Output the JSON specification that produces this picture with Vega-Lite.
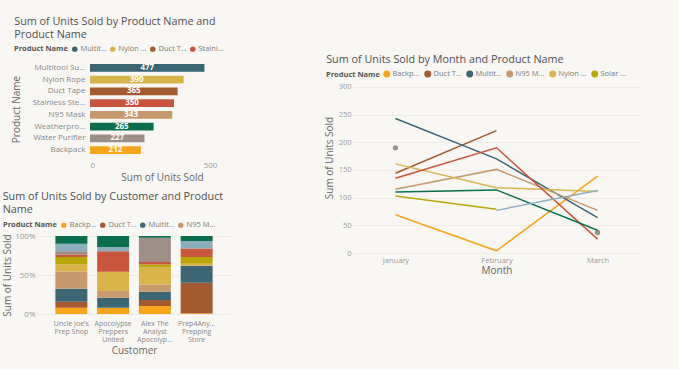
{
  "$schema": "https://vega.github.io/schema/vega-lite/v6.json",
  "background": "#F8F7F3",
  "padding": {"left": 2, "top": 16, "right": 39, "bottom": 13},
  "config": {
    "font": "Open Sans",
    "view": {"stroke": null},
    "axis": {"domain": false, "ticks": false, "labelColor": "#999999", "titleColor": "#666666", "titleFontWeight": "normal", "labelFontSize": 8, "titleFontSize": 10, "gridColor": "#ECEBE6", "labelAngle": 0},
    "title": {"fontSize": 10.8, "fontWeight": "normal", "color": "#505050", "anchor": "start"},
    "legend": {"orient": "none", "direction": "horizontal", "titleOrient": "left", "titleFontSize": 7.5, "titleFontWeight": "bold", "titleColor": "#555555", "labelFontSize": 7.5, "labelColor": "#7A7A7A", "symbolType": "circle", "symbolSize": 30, "labelLimit": 29, "titlePadding": 3, "columnPadding": 2, "labelOffset": 2}
  },
  "concat": [
    {
      "concat": [
        {
          "width": 198,
          "height": 94,
          "title": {"text": ["Sum of Units Sold by Product Name and", "Product Name"], "frame": "bounds", "anchor": "start", "offset": 5, "dx": 3, "lineHeight": 13},
          "data": {"values": [
            {"product": "Multitool Survival Knife", "units": 477},
            {"product": "Nylon Rope", "units": 390},
            {"product": "Duct Tape", "units": 365},
            {"product": "Stainless Steel Water Bottle", "units": 350},
            {"product": "N95 Mask", "units": 343},
            {"product": "Weatherproof Jacket", "units": 265},
            {"product": "Water Purifier", "units": 227},
            {"product": "Backpack", "units": 212}
          ]},
          "encoding": {
            "y": {"field": "product", "type": "nominal", "sort": ["Multitool Survival Knife", "Nylon Rope", "Duct Tape", "Stainless Steel Water Bottle", "N95 Mask", "Weatherproof Jacket", "Water Purifier", "Backpack"], "title": "Product Name", "scale": {"paddingInner": 0.34, "paddingOuter": 0.17}, "axis": {"offset": -53, "labelLimit": 54, "labelPadding": 5, "titlePadding": 11, "labelColor": "#888888"}}
          },
          "layer": [
            {
              "mark": {"type": "bar"},
              "encoding": {
                "x": {"field": "units", "type": "quantitative", "scale": {"domain": [0, 600], "range": [53, 197]}, "title": "Sum of Units Sold", "axis": {"values": [0, 500], "grid": false, "labelPadding": 5, "titlePadding": 3}},
                "color": {"field": "product", "type": "nominal",
                  "scale": {"domain": ["Backpack", "Duct Tape", "Multitool Survival Knife", "N95 Mask", "Nylon Rope", "Solar Battery Flashlight", "Stainless Steel Water Bottle", "Water Purifier", "Waterproof Fire Starter", "Weatherproof Jacket"],
                            "range": ["#F9A51A", "#A35A2F", "#3D6675", "#C69A6D", "#D8B44B", "#B9A707", "#C9563C", "#9D8F86", "#8DAEBD", "#0A6E4F"]},
                  "legend": {"title": "Product Name", "values": ["Multitool Survival Knife", "Nylon Rope", "Duct Tape", "Stainless Steel Water Bottle"], "legendX": -23, "legendY": -17}}
              }
            },
            {
              "transform": [{"calculate": "datum.units / 2", "as": "mid"}],
              "mark": {"type": "text", "color": "#FFFFFF", "fontWeight": "bold", "fontSize": 8},
              "encoding": {
                "x": {"field": "mid", "type": "quantitative", "title": "Sum of Units Sold"},
                "text": {"field": "units", "type": "quantitative"}
              }
            }
          ]
        },
        {
          "width": 194,
          "height": 78,
          "title": {"text": ["Sum of Units Sold by Customer and Product", "Name"], "frame": "bounds", "anchor": "start", "offset": 6, "lineHeight": 13},
          "data": {"values": [
            {"customer": "Uncle Joe's Prep Shop", "product": "Backpack", "units": 8.1},
            {"customer": "Uncle Joe's Prep Shop", "product": "Duct Tape", "units": 7.7},
            {"customer": "Uncle Joe's Prep Shop", "product": "Multitool Survival Knife", "units": 16.6},
            {"customer": "Uncle Joe's Prep Shop", "product": "N95 Mask", "units": 22.1},
            {"customer": "Uncle Joe's Prep Shop", "product": "Nylon Rope", "units": 8.9},
            {"customer": "Uncle Joe's Prep Shop", "product": "Solar Battery Flashlight", "units": 9.8},
            {"customer": "Uncle Joe's Prep Shop", "product": "Stainless Steel Water Bottle", "units": 3.0},
            {"customer": "Uncle Joe's Prep Shop", "product": "Water Purifier", "units": 4.3},
            {"customer": "Uncle Joe's Prep Shop", "product": "Waterproof Fire Starter", "units": 9.8},
            {"customer": "Uncle Joe's Prep Shop", "product": "Weatherproof Jacket", "units": 9.8},
            {"customer": "Apocolypse Preppers United", "product": "Backpack", "units": 8.1},
            {"customer": "Apocolypse Preppers United", "product": "Multitool Survival Knife", "units": 12.8},
            {"customer": "Apocolypse Preppers United", "product": "N95 Mask", "units": 8.5},
            {"customer": "Apocolypse Preppers United", "product": "Nylon Rope", "units": 24.7},
            {"customer": "Apocolypse Preppers United", "product": "Stainless Steel Water Bottle", "units": 26.4},
            {"customer": "Apocolypse Preppers United", "product": "Waterproof Fire Starter", "units": 5.5},
            {"customer": "Apocolypse Preppers United", "product": "Weatherproof Jacket", "units": 14.0},
            {"customer": "Alex The Analyst Apocolypse", "product": "Backpack", "units": 10.2},
            {"customer": "Alex The Analyst Apocolypse", "product": "Duct Tape", "units": 7.7},
            {"customer": "Alex The Analyst Apocolypse", "product": "Multitool Survival Knife", "units": 10.6},
            {"customer": "Alex The Analyst Apocolypse", "product": "N95 Mask", "units": 9.4},
            {"customer": "Alex The Analyst Apocolypse", "product": "Nylon Rope", "units": 21.7},
            {"customer": "Alex The Analyst Apocolypse", "product": "Solar Battery Flashlight", "units": 3.8},
            {"customer": "Alex The Analyst Apocolypse", "product": "Stainless Steel Water Bottle", "units": 3.4},
            {"customer": "Alex The Analyst Apocolypse", "product": "Water Purifier", "units": 31.1},
            {"customer": "Alex The Analyst Apocolypse", "product": "Weatherproof Jacket", "units": 2.1},
            {"customer": "Prep4Anything Prepping Store", "product": "Backpack", "units": 1.0},
            {"customer": "Prep4Anything Prepping Store", "product": "Duct Tape", "units": 39.0},
            {"customer": "Prep4Anything Prepping Store", "product": "Multitool Survival Knife", "units": 21.7},
            {"customer": "Prep4Anything Prepping Store", "product": "Nylon Rope", "units": 2.5},
            {"customer": "Prep4Anything Prepping Store", "product": "Solar Battery Flashlight", "units": 8.5},
            {"customer": "Prep4Anything Prepping Store", "product": "Stainless Steel Water Bottle", "units": 11.0},
            {"customer": "Prep4Anything Prepping Store", "product": "Waterproof Fire Starter", "units": 9.4},
            {"customer": "Prep4Anything Prepping Store", "product": "Weatherproof Jacket", "units": 6.4}
          ]},
          "mark": {"type": "bar"},
          "encoding": {
            "x": {"field": "customer", "type": "nominal", "sort": ["Uncle Joe's Prep Shop", "Apocolypse Preppers United", "Alex The Analyst Apocolypse", "Prep4Anything Prepping Store"], "title": "Customer",
                  "scale": {"paddingInner": 0.234, "paddingOuter": 0.44},
                  "axis": {"labelExpr": "indexof(datum.label, 'Uncle') == 0 ? [\"Uncle Joe's\", 'Prep Shop'] : indexof(datum.label, 'Apoc') == 0 ? ['Apocolypse', 'Preppers', 'United'] : indexof(datum.label, 'Alex') == 0 ? ['Alex The', 'Analyst', 'Apocolyp...'] : ['Prep4Any...', 'Prepping', 'Store']", "labelFontSize": 7, "labelLineHeight": 8.3, "labelPadding": 5, "titlePadding": 3, "labelColor": "#888888"}},
            "y": {"field": "units", "type": "quantitative", "aggregate": "sum", "stack": "normalize", "title": "Sum of Units Sold", "axis": {"format": "%", "values": [0, 0.5, 1], "grid": true, "labelPadding": 2, "titlePadding": 2}},
            "order": {"field": "product", "type": "nominal", "sort": "ascending"},
            "color": {"field": "product", "type": "nominal",
              "scale": {"domain": ["Backpack", "Duct Tape", "Multitool Survival Knife", "N95 Mask", "Nylon Rope", "Solar Battery Flashlight", "Stainless Steel Water Bottle", "Water Purifier", "Waterproof Fire Starter", "Weatherproof Jacket"],
                        "range": ["#F9A51A", "#A35A2F", "#3D6675", "#C69A6D", "#D8B44B", "#B9A707", "#C9563C", "#9D8F86", "#8DAEBD", "#0A6E4F"]},
              "legend": {"title": "Product Name", "values": ["Backpack", "Duct Tape", "Multitool Survival Knife", "N95 Mask"], "legendX": -34, "legendY": -15}}
          }
        }
      ],
      "columns": 1,
      "align": "none",
      "spacing": 9,
      "resolve": {"scale": {"color": "independent"}}
    },
    {
      "width": 287,
      "height": 191,
      "title": {"text": "Sum of Units Sold by Month and Product Name", "frame": "bounds", "anchor": "start", "offset": -3, "dx": 2},
      "data": {"values": [
        {"month": "January", "product": "Backpack", "units": 69},
        {"month": "January", "product": "Duct Tape", "units": 144},
        {"month": "January", "product": "Multitool Survival Knife", "units": 243},
        {"month": "January", "product": "N95 Mask", "units": 115},
        {"month": "January", "product": "Nylon Rope", "units": 161},
        {"month": "January", "product": "Solar Battery Flashlight", "units": 103},
        {"month": "January", "product": "Stainless Steel Water Bottle", "units": 135},
        {"month": "January", "product": "Water Purifier", "units": 190},
        {"month": "January", "product": "Weatherproof Jacket", "units": 110},
        {"month": "February", "product": "Backpack", "units": 4},
        {"month": "February", "product": "Duct Tape", "units": 221},
        {"month": "February", "product": "Multitool Survival Knife", "units": 170},
        {"month": "February", "product": "N95 Mask", "units": 151},
        {"month": "February", "product": "Nylon Rope", "units": 118},
        {"month": "February", "product": "Solar Battery Flashlight", "units": 79},
        {"month": "February", "product": "Stainless Steel Water Bottle", "units": 190},
        {"month": "February", "product": "Waterproof Fire Starter", "units": 77},
        {"month": "February", "product": "Weatherproof Jacket", "units": 114},
        {"month": "March", "product": "Backpack", "units": 139},
        {"month": "March", "product": "Multitool Survival Knife", "units": 64},
        {"month": "March", "product": "N95 Mask", "units": 77},
        {"month": "March", "product": "Nylon Rope", "units": 111},
        {"month": "March", "product": "Stainless Steel Water Bottle", "units": 25},
        {"month": "March", "product": "Water Purifier", "units": 37},
        {"month": "March", "product": "Waterproof Fire Starter", "units": 113},
        {"month": "March", "product": "Weatherproof Jacket", "units": 41}
      ]},
      "encoding": {
        "x": {"field": "month", "type": "ordinal", "sort": ["January", "February", "March"], "title": "Month", "scale": {"type": "point", "padding": 0.42}, "axis": {"labelPadding": 3, "titlePadding": 2, "labelFontSize": 7.5}},
        "y": {"field": "units", "type": "quantitative", "title": "Sum of Units Sold", "scale": {"domain": [0, 345], "nice": false}, "axis": {"values": [0, 50, 100, 150, 200, 250, 300], "grid": true, "labelPadding": 2, "titlePadding": 4, "labelFontSize": 7.5}},
        "color": {"field": "product", "type": "nominal",
          "scale": {"domain": ["Backpack", "Duct Tape", "Multitool Survival Knife", "N95 Mask", "Nylon Rope", "Solar Battery Flashlight", "Stainless Steel Water Bottle", "Water Purifier", "Waterproof Fire Starter", "Weatherproof Jacket"],
                    "range": ["#F9A51A", "#A35A2F", "#3D6675", "#C69A6D", "#D8B44B", "#B9A707", "#C9563C", "#9D8F86", "#8DAEBD", "#0A6E4F"]},
          "legend": {"title": "Product Name", "values": ["Backpack", "Duct Tape", "Multitool Survival Knife", "N95 Mask", "Nylon Rope", "Solar Battery Flashlight"], "legendX": -27, "legendY": 8}}
      },
      "layer": [
        {"transform": [{"filter": "datum.product == 'Water Purifier'"}], "mark": {"type": "point", "filled": true, "size": 28, "opacity": 1}},
        {"transform": [{"filter": "datum.product != 'Water Purifier'"}], "mark": {"type": "line", "strokeWidth": 1.5}}
      ]
    }
  ],
  "columns": 2,
  "align": "none",
  "spacing": 89,
  "resolve": {"scale": {"color": "independent"}}
}
